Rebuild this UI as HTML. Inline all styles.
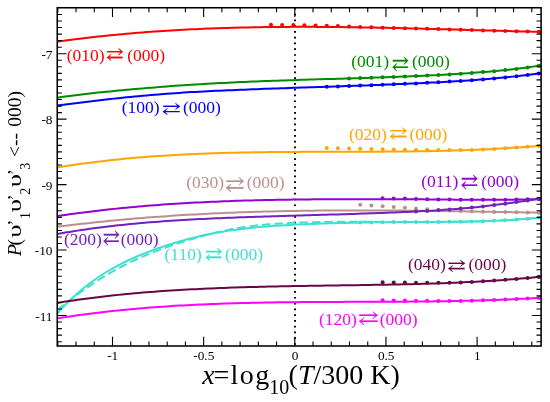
<!DOCTYPE html>
<html lang="en"><head><meta charset="utf-8"><title>P(v1'v2'v3' &lt;-- 000) vs log10(T/300 K)</title>
<style>html,body{margin:0;padding:0;background:#fff}svg{display:block}</style></head>
<body>
<svg width="550" height="402" viewBox="0 0 550 402">
<rect width="550" height="402" fill="#fff"/>
<clipPath id="cp"><rect x="57.25" y="7.75" width="483.85" height="338.25"/></clipPath>
<line x1="295" y1="7.9" x2="295" y2="346.0" stroke="#000" stroke-width="2" stroke-dasharray="1.7 4.08"/>
<g clip-path="url(#cp)" fill="none" stroke-width="2" stroke-linejoin="round">
<path d="M57.2,41.69 L61.3,41.12 L65.4,40.57 L69.4,40.03 L73.5,39.50 L77.6,38.99 L81.6,38.49 L85.7,38.00 L89.8,37.52 L93.8,37.06 L97.9,36.61 L102.0,36.17 L106.0,35.75 L110.1,35.33 L114.2,34.93 L118.2,34.54 L122.3,34.16 L126.4,33.79 L130.4,33.43 L134.5,33.09 L138.6,32.75 L142.6,32.43 L146.7,32.11 L150.8,31.81 L154.8,31.52 L158.9,31.24 L163.0,30.97 L167.0,30.71 L171.1,30.45 L175.2,30.21 L179.2,29.98 L183.3,29.76 L187.4,29.54 L191.4,29.34 L195.5,29.14 L199.6,28.96 L203.6,28.78 L207.7,28.61 L211.8,28.45 L215.8,28.30 L219.9,28.16 L224.0,28.02 L228.0,27.90 L232.1,27.78 L236.2,27.67 L240.2,27.57 L244.3,27.47 L248.4,27.38 L252.4,27.30 L256.5,27.23 L260.5,27.16 L264.6,27.10 L268.7,27.05 L272.7,27.00 L276.8,26.96 L280.9,26.93 L284.9,26.90 L289.0,26.88 L293.1,26.86 L297.1,26.85 L301.2,26.85 L305.3,26.85 L309.3,26.86 L313.4,26.87 L317.5,26.89 L321.5,26.91 L325.6,26.94 L329.7,26.97 L333.7,27.00 L337.8,27.04 L341.9,27.09 L345.9,27.14 L350.0,27.19 L354.1,27.25 L358.1,27.31 L362.2,27.38 L366.3,27.45 L370.3,27.52 L374.4,27.59 L378.5,27.67 L382.5,27.76 L386.6,27.84 L390.7,27.93 L394.7,28.02 L398.8,28.11 L402.9,28.20 L406.9,28.30 L411.0,28.40 L415.1,28.50 L419.1,28.61 L423.2,28.71 L427.3,28.82 L431.3,28.92 L435.4,29.03 L439.5,29.14 L443.5,29.25 L447.6,29.37 L451.6,29.48 L455.7,29.59 L459.8,29.71 L463.8,29.82 L467.9,29.94 L472.0,30.05 L476.0,30.17 L480.1,30.28 L484.2,30.40 L488.2,30.51 L492.3,30.62 L496.4,30.74 L500.4,30.85 L504.5,30.96 L508.6,31.07 L512.6,31.18 L516.7,31.28 L520.8,31.39 L524.8,31.49 L528.9,31.60 L533.0,31.70 L537.0,31.80 L541.1,31.89" stroke="#ff0000"/>
<path d="M57.2,97.71 L61.3,97.09 L65.4,96.50 L69.4,95.94 L73.5,95.40 L77.6,94.89 L81.6,94.39 L85.7,93.92 L89.8,93.46 L93.8,93.02 L97.9,92.59 L102.0,92.18 L106.0,91.78 L110.1,91.38 L114.2,90.99 L118.2,90.61 L122.3,90.23 L126.4,89.85 L130.4,89.48 L134.5,89.12 L138.6,88.76 L142.6,88.40 L146.7,88.05 L150.8,87.71 L154.8,87.38 L158.9,87.05 L163.0,86.73 L167.0,86.42 L171.1,86.11 L175.2,85.81 L179.2,85.53 L183.3,85.25 L187.4,84.98 L191.4,84.71 L195.5,84.46 L199.6,84.21 L203.6,83.97 L207.7,83.74 L211.8,83.51 L215.8,83.30 L219.9,83.08 L224.0,82.88 L228.0,82.68 L232.1,82.48 L236.2,82.30 L240.2,82.11 L244.3,81.94 L248.4,81.76 L252.4,81.60 L256.5,81.43 L260.5,81.27 L264.6,81.12 L268.7,80.97 L272.7,80.82 L276.8,80.67 L280.9,80.53 L284.9,80.39 L289.0,80.26 L293.1,80.13 L297.1,79.99 L301.2,79.87 L305.3,79.74 L309.3,79.61 L313.4,79.49 L317.5,79.37 L321.5,79.24 L325.6,79.12 L329.7,79.00 L333.7,78.88 L337.8,78.76 L341.9,78.64 L345.9,78.51 L350.0,78.39 L354.1,78.27 L358.1,78.14 L362.2,78.02 L366.3,77.89 L370.3,77.76 L374.4,77.62 L378.5,77.49 L382.5,77.35 L386.6,77.21 L390.7,77.06 L394.7,76.92 L398.8,76.76 L402.9,76.60 L406.9,76.44 L411.0,76.27 L415.1,76.10 L419.1,75.92 L423.2,75.73 L427.3,75.54 L431.3,75.34 L435.4,75.14 L439.5,74.92 L443.5,74.70 L447.6,74.47 L451.6,74.24 L455.7,73.99 L459.8,73.73 L463.8,73.47 L467.9,73.19 L472.0,72.91 L476.0,72.62 L480.1,72.31 L484.2,71.99 L488.2,71.66 L492.3,71.32 L496.4,70.96 L500.4,70.58 L504.5,70.18 L508.6,69.76 L512.6,69.31 L516.7,68.84 L520.8,68.33 L524.8,67.80 L528.9,67.23 L533.0,66.62 L537.0,65.98 L541.1,65.29" stroke="#008b00"/>
<path d="M57.2,105.49 L61.3,104.97 L65.4,104.44 L69.4,103.93 L73.5,103.41 L77.6,102.90 L81.6,102.40 L85.7,101.90 L89.8,101.41 L93.8,100.93 L97.9,100.45 L102.0,99.99 L106.0,99.52 L110.1,99.07 L114.2,98.63 L118.2,98.19 L122.3,97.77 L126.4,97.35 L130.4,96.94 L134.5,96.55 L138.6,96.16 L142.6,95.79 L146.7,95.42 L150.8,95.06 L154.8,94.72 L158.9,94.39 L163.0,94.06 L167.0,93.75 L171.1,93.45 L175.2,93.16 L179.2,92.89 L183.3,92.62 L187.4,92.37 L191.4,92.12 L195.5,91.89 L199.6,91.66 L203.6,91.45 L207.7,91.24 L211.8,91.04 L215.8,90.85 L219.9,90.66 L224.0,90.48 L228.0,90.30 L232.1,90.13 L236.2,89.96 L240.2,89.80 L244.3,89.63 L248.4,89.47 L252.4,89.32 L256.5,89.17 L260.5,89.01 L264.6,88.87 L268.7,88.72 L272.7,88.57 L276.8,88.43 L280.9,88.29 L284.9,88.15 L289.0,88.01 L293.1,87.87 L297.1,87.74 L301.2,87.60 L305.3,87.46 L309.3,87.33 L313.4,87.19 L317.5,87.06 L321.5,86.92 L325.6,86.79 L329.7,86.65 L333.7,86.52 L337.8,86.38 L341.9,86.24 L345.9,86.10 L350.0,85.96 L354.1,85.82 L358.1,85.67 L362.2,85.53 L366.3,85.38 L370.3,85.23 L374.4,85.08 L378.5,84.92 L382.5,84.77 L386.6,84.61 L390.7,84.44 L394.7,84.28 L398.8,84.11 L402.9,83.94 L406.9,83.76 L411.0,83.58 L415.1,83.40 L419.1,83.21 L423.2,83.02 L427.3,82.82 L431.3,82.62 L435.4,82.41 L439.5,82.19 L443.5,81.97 L447.6,81.74 L451.6,81.51 L455.7,81.26 L459.8,81.01 L463.8,80.74 L467.9,80.47 L472.0,80.18 L476.0,79.89 L480.1,79.58 L484.2,79.26 L488.2,78.92 L492.3,78.58 L496.4,78.22 L500.4,77.84 L504.5,77.45 L508.6,77.04 L512.6,76.62 L516.7,76.18 L520.8,75.72 L524.8,75.24 L528.9,74.75 L533.0,74.24 L537.0,73.70 L541.1,73.15" stroke="#0000ff"/>
<path d="M57.2,167.42 L61.3,166.76 L65.4,166.12 L69.4,165.50 L73.5,164.89 L77.6,164.31 L81.6,163.74 L85.7,163.19 L89.8,162.66 L93.8,162.14 L97.9,161.65 L102.0,161.16 L106.0,160.70 L110.1,160.25 L114.2,159.81 L118.2,159.39 L122.3,158.99 L126.4,158.60 L130.4,158.22 L134.5,157.86 L138.6,157.52 L142.6,157.18 L146.7,156.86 L150.8,156.56 L154.8,156.26 L158.9,155.98 L163.0,155.71 L167.0,155.45 L171.1,155.21 L175.2,154.97 L179.2,154.75 L183.3,154.54 L187.4,154.34 L191.4,154.15 L195.5,153.96 L199.6,153.79 L203.6,153.63 L207.7,153.48 L211.8,153.33 L215.8,153.20 L219.9,153.07 L224.0,152.95 L228.0,152.84 L232.1,152.74 L236.2,152.64 L240.2,152.55 L244.3,152.47 L248.4,152.39 L252.4,152.32 L256.5,152.26 L260.5,152.20 L264.6,152.15 L268.7,152.10 L272.7,152.05 L276.8,152.01 L280.9,151.98 L284.9,151.95 L289.0,151.92 L293.1,151.90 L297.1,151.88 L301.2,151.86 L305.3,151.84 L309.3,151.83 L313.4,151.82 L317.5,151.81 L321.5,151.80 L325.6,151.79 L329.7,151.78 L333.7,151.78 L337.8,151.77 L341.9,151.77 L345.9,151.76 L350.0,151.75 L354.1,151.75 L358.1,151.74 L362.2,151.73 L366.3,151.72 L370.3,151.70 L374.4,151.69 L378.5,151.67 L382.5,151.65 L386.6,151.62 L390.7,151.60 L394.7,151.57 L398.8,151.53 L402.9,151.49 L406.9,151.45 L411.0,151.40 L415.1,151.35 L419.1,151.29 L423.2,151.22 L427.3,151.15 L431.3,151.08 L435.4,151.00 L439.5,150.91 L443.5,150.81 L447.6,150.71 L451.6,150.60 L455.7,150.48 L459.8,150.35 L463.8,150.22 L467.9,150.07 L472.0,149.92 L476.0,149.76 L480.1,149.59 L484.2,149.41 L488.2,149.22 L492.3,149.02 L496.4,148.81 L500.4,148.58 L504.5,148.35 L508.6,148.11 L512.6,147.85 L516.7,147.58 L520.8,147.30 L524.8,147.01 L528.9,146.70 L533.0,146.38 L537.0,146.05 L541.1,145.70" stroke="#ffa500"/>
<path d="M57.2,226.84 L61.3,226.32 L65.4,225.81 L69.4,225.31 L73.5,224.81 L77.6,224.33 L81.6,223.86 L85.7,223.40 L89.8,222.95 L93.8,222.51 L97.9,222.08 L102.0,221.65 L106.0,221.24 L110.1,220.84 L114.2,220.44 L118.2,220.06 L122.3,219.68 L126.4,219.32 L130.4,218.96 L134.5,218.61 L138.6,218.27 L142.6,217.94 L146.7,217.62 L150.8,217.30 L154.8,217.00 L158.9,216.70 L163.0,216.41 L167.0,216.13 L171.1,215.86 L175.2,215.59 L179.2,215.34 L183.3,215.09 L187.4,214.85 L191.4,214.61 L195.5,214.39 L199.6,214.17 L203.6,213.95 L207.7,213.75 L211.8,213.55 L215.8,213.36 L219.9,213.18 L224.0,213.00 L228.0,212.83 L232.1,212.67 L236.2,212.51 L240.2,212.36 L244.3,212.22 L248.4,212.08 L252.4,211.95 L256.5,211.82 L260.5,211.70 L264.6,211.59 L268.7,211.48 L272.7,211.38 L276.8,211.29 L280.9,211.20 L284.9,211.11 L289.0,211.03 L293.1,210.96 L297.1,210.89 L301.2,210.82 L305.3,210.76 L309.3,210.71 L313.4,210.66 L317.5,210.61 L321.5,210.57 L325.6,210.54 L329.7,210.51 L333.7,210.48 L337.8,210.46 L341.9,210.44 L345.9,210.43 L350.0,210.41 L354.1,210.41 L358.1,210.41 L362.2,210.41 L366.3,210.41 L370.3,210.42 L374.4,210.43 L378.5,210.45 L382.5,210.46 L386.6,210.48 L390.7,210.51 L394.7,210.54 L398.8,210.57 L402.9,210.60 L406.9,210.63 L411.0,210.67 L415.1,210.71 L419.1,210.76 L423.2,210.80 L427.3,210.85 L431.3,210.90 L435.4,210.95 L439.5,211.00 L443.5,211.06 L447.6,211.12 L451.6,211.18 L455.7,211.24 L459.8,211.30 L463.8,211.36 L467.9,211.43 L472.0,211.49 L476.0,211.56 L480.1,211.63 L484.2,211.70 L488.2,211.77 L492.3,211.84 L496.4,211.91 L500.4,211.98 L504.5,212.05 L508.6,212.12 L512.6,212.20 L516.7,212.27 L520.8,212.34 L524.8,212.42 L528.9,212.49 L533.0,212.56 L537.0,212.63 L541.1,212.71" stroke="#bc8f8f"/>
<path d="M57.2,216.13 L61.3,215.52 L65.4,214.93 L69.4,214.35 L73.5,213.78 L77.6,213.23 L81.6,212.69 L85.7,212.17 L89.8,211.66 L93.8,211.16 L97.9,210.68 L102.0,210.21 L106.0,209.75 L110.1,209.31 L114.2,208.87 L118.2,208.45 L122.3,208.05 L126.4,207.65 L130.4,207.27 L134.5,206.90 L138.6,206.54 L142.6,206.19 L146.7,205.85 L150.8,205.52 L154.8,205.21 L158.9,204.90 L163.0,204.60 L167.0,204.32 L171.1,204.04 L175.2,203.78 L179.2,203.52 L183.3,203.28 L187.4,203.04 L191.4,202.81 L195.5,202.60 L199.6,202.39 L203.6,202.19 L207.7,201.99 L211.8,201.81 L215.8,201.63 L219.9,201.47 L224.0,201.31 L228.0,201.15 L232.1,201.01 L236.2,200.87 L240.2,200.74 L244.3,200.61 L248.4,200.50 L252.4,200.38 L256.5,200.28 L260.5,200.18 L264.6,200.09 L268.7,200.00 L272.7,199.92 L276.8,199.84 L280.9,199.77 L284.9,199.71 L289.0,199.64 L293.1,199.59 L297.1,199.54 L301.2,199.49 L305.3,199.45 L309.3,199.41 L313.4,199.37 L317.5,199.34 L321.5,199.31 L325.6,199.28 L329.7,199.26 L333.7,199.24 L337.8,199.22 L341.9,199.21 L345.9,199.20 L350.0,199.19 L354.1,199.18 L358.1,199.17 L362.2,199.17 L366.3,199.17 L370.3,199.17 L374.4,199.17 L378.5,199.17 L382.5,199.17 L386.6,199.18 L390.7,199.19 L394.7,199.20 L398.8,199.22 L402.9,199.23 L406.9,199.25 L411.0,199.27 L415.1,199.30 L419.1,199.33 L423.2,199.36 L427.3,199.39 L431.3,199.43 L435.4,199.46 L439.5,199.50 L443.5,199.54 L447.6,199.58 L451.6,199.62 L455.7,199.66 L459.8,199.69 L463.8,199.72 L467.9,199.75 L472.0,199.78 L476.0,199.80 L480.1,199.81 L484.2,199.82 L488.2,199.83 L492.3,199.82 L496.4,199.81 L500.4,199.79 L504.5,199.76 L508.6,199.72 L512.6,199.66 L516.7,199.60 L520.8,199.52 L524.8,199.42 L528.9,199.31 L533.0,199.19 L537.0,199.05 L541.1,198.89" stroke="#9400d3"/>
<path d="M57.2,233.97 L61.3,233.26 L65.4,232.57 L69.4,231.90 L73.5,231.25 L77.6,230.62 L81.6,230.01 L85.7,229.42 L89.8,228.85 L93.8,228.30 L97.9,227.76 L102.0,227.25 L106.0,226.75 L110.1,226.27 L114.2,225.80 L118.2,225.35 L122.3,224.91 L126.4,224.49 L130.4,224.09 L134.5,223.70 L138.6,223.32 L142.6,222.96 L146.7,222.61 L150.8,222.28 L154.8,221.95 L158.9,221.64 L163.0,221.34 L167.0,221.06 L171.1,220.78 L175.2,220.51 L179.2,220.26 L183.3,220.01 L187.4,219.77 L191.4,219.54 L195.5,219.32 L199.6,219.11 L203.6,218.91 L207.7,218.71 L211.8,218.52 L215.8,218.34 L219.9,218.16 L224.0,217.99 L228.0,217.83 L232.1,217.67 L236.2,217.51 L240.2,217.36 L244.3,217.21 L248.4,217.07 L252.4,216.93 L256.5,216.79 L260.5,216.66 L264.6,216.52 L268.7,216.40 L272.7,216.27 L276.8,216.15 L280.9,216.02 L284.9,215.90 L289.0,215.78 L293.1,215.66 L297.1,215.55 L301.2,215.43 L305.3,215.32 L309.3,215.20 L313.4,215.08 L317.5,214.97 L321.5,214.85 L325.6,214.74 L329.7,214.62 L333.7,214.50 L337.8,214.38 L341.9,214.26 L345.9,214.14 L350.0,214.01 L354.1,213.88 L358.1,213.75 L362.2,213.62 L366.3,213.48 L370.3,213.35 L374.4,213.20 L378.5,213.06 L382.5,212.91 L386.6,212.76 L390.7,212.60 L394.7,212.44 L398.8,212.27 L402.9,212.10 L406.9,211.91 L411.0,211.73 L415.1,211.53 L419.1,211.33 L423.2,211.11 L427.3,210.89 L431.3,210.65 L435.4,210.40 L439.5,210.14 L443.5,209.87 L447.6,209.58 L451.6,209.28 L455.7,208.97 L459.8,208.63 L463.8,208.28 L467.9,207.92 L472.0,207.53 L476.0,207.13 L480.1,206.70 L484.2,206.26 L488.2,205.79 L492.3,205.31 L496.4,204.81 L500.4,204.30 L504.5,203.77 L508.6,203.22 L512.6,202.67 L516.7,202.11 L520.8,201.53 L524.8,200.95 L528.9,200.37 L533.0,199.78 L537.0,199.18 L541.1,198.59" stroke="#7221bc"/>
<path d="M57.2,313.53 L61.3,309.06 L65.4,304.80 L69.4,300.75 L73.5,296.89 L77.6,293.23 L81.6,289.75 L85.7,286.44 L89.8,283.30 L93.8,280.32 L97.9,277.49 L102.0,274.80 L106.0,272.25 L110.1,269.83 L114.2,267.52 L118.2,265.33 L122.3,263.24 L126.4,261.25 L130.4,259.35 L134.5,257.53 L138.6,255.79 L142.6,254.11 L146.7,252.51 L150.8,250.96 L154.8,249.47 L158.9,248.04 L163.0,246.65 L167.0,245.32 L171.1,244.02 L175.2,242.77 L179.2,241.57 L183.3,240.41 L187.4,239.30 L191.4,238.24 L195.5,237.23 L199.6,236.26 L203.6,235.34 L207.7,234.47 L211.8,233.65 L215.8,232.88 L219.9,232.15 L224.0,231.47 L228.0,230.83 L232.1,230.23 L236.2,229.66 L240.2,229.14 L244.3,228.65 L248.4,228.19 L252.4,227.76 L256.5,227.36 L260.5,226.99 L264.6,226.65 L268.7,226.33 L272.7,226.03 L276.8,225.75 L280.9,225.49 L284.9,225.25 L289.0,225.02 L293.1,224.81 L297.1,224.61 L301.2,224.41 L305.3,224.23 L309.3,224.06 L313.4,223.90 L317.5,223.75 L321.5,223.60 L325.6,223.46 L329.7,223.33 L333.7,223.21 L337.8,223.10 L341.9,222.99 L345.9,222.89 L350.0,222.80 L354.1,222.71 L358.1,222.63 L362.2,222.56 L366.3,222.49 L370.3,222.42 L374.4,222.37 L378.5,222.31 L382.5,222.26 L386.6,222.22 L390.7,222.17 L394.7,222.14 L398.8,222.10 L402.9,222.07 L406.9,222.04 L411.0,222.02 L415.1,221.99 L419.1,221.97 L423.2,221.95 L427.3,221.93 L431.3,221.91 L435.4,221.89 L439.5,221.87 L443.5,221.84 L447.6,221.81 L451.6,221.78 L455.7,221.74 L459.8,221.69 L463.8,221.63 L467.9,221.56 L472.0,221.48 L476.0,221.39 L480.1,221.29 L484.2,221.18 L488.2,221.04 L492.3,220.90 L496.4,220.73 L500.4,220.55 L504.5,220.35 L508.6,220.12 L512.6,219.88 L516.7,219.61 L520.8,219.32 L524.8,219.01 L528.9,218.66 L533.0,218.30 L537.0,217.90 L541.1,217.48" stroke="#40e0d0"/>
<path d="M57.2,310.10 L61.3,306.85 L65.4,303.66 L69.4,300.53 L73.5,297.46 L77.6,294.45 L81.6,291.51 L85.7,288.63 L89.8,285.83 L93.8,283.10 L97.9,280.45 L102.0,277.87 L106.0,275.37 L110.1,272.96 L114.2,270.63 L118.2,268.39 L122.3,266.24 L126.4,264.17 L130.4,262.18 L134.5,260.26 L138.6,258.41 L142.6,256.64 L146.7,254.92 L150.8,253.27 L154.8,251.67 L158.9,250.12 L163.0,248.62 L167.0,247.17 L171.1,245.75 L175.2,244.37 L179.2,243.03 L183.3,241.71 L187.4,240.43 L191.4,239.18 L195.5,237.97 L199.6,236.80 L203.6,235.67 L207.7,234.59 L211.8,233.55 L215.8,232.56 L219.9,231.61 L224.0,230.72 L228.0,229.88 L232.1,229.10 L236.2,228.38 L240.2,227.70 L244.3,227.09 L248.4,226.52 L252.4,225.99 L256.5,225.52 L260.5,225.08 L264.6,224.69 L268.7,224.33 L272.7,224.01 L276.8,223.72 L280.9,223.46 L284.9,223.23 L289.0,223.02 L293.1,222.84 L297.1,222.67 L301.2,222.53 L305.3,222.39 L309.3,222.28 L313.4,222.18 L317.5,222.09 L321.5,222.01 L325.6,221.95 L329.7,221.90 L333.7,221.86 L337.8,221.83 L341.9,221.80 L345.9,221.79 L350.0,221.78 L354.1,221.78 L358.1,221.79 L362.2,221.80 L366.3,221.82 L370.3,221.84 L374.4,221.86 L378.5,221.89 L382.5,221.91 L386.6,221.94 L390.7,221.97 L394.7,222.00 L398.8,222.02 L402.9,222.05 L406.9,222.07 L411.0,222.09 L415.1,222.10 L419.1,222.11 L423.2,222.11 L427.3,222.11 L431.3,222.10 L435.4,222.08 L439.5,222.06 L443.5,222.02 L447.6,221.98 L451.6,221.93 L455.7,221.87 L459.8,221.79 L463.8,221.71 L467.9,221.62 L472.0,221.52 L476.0,221.40 L480.1,221.27 L484.2,221.13 L488.2,220.97 L492.3,220.81 L496.4,220.62 L500.4,220.43 L504.5,220.21 L508.6,219.98 L512.6,219.74 L516.7,219.48 L520.8,219.20 L524.8,218.90 L528.9,218.59 L533.0,218.26 L537.0,217.91 L541.1,217.54" stroke="#40e0d0" stroke-dasharray="8.5 4"/>
<path d="M57.2,302.90 L61.3,302.25 L65.4,301.61 L69.4,301.00 L73.5,300.40 L77.6,299.81 L81.6,299.25 L85.7,298.70 L89.8,298.17 L93.8,297.65 L97.9,297.15 L102.0,296.67 L106.0,296.20 L110.1,295.74 L114.2,295.30 L118.2,294.87 L122.3,294.46 L126.4,294.06 L130.4,293.68 L134.5,293.31 L138.6,292.95 L142.6,292.60 L146.7,292.27 L150.8,291.95 L154.8,291.64 L158.9,291.34 L163.0,291.06 L167.0,290.78 L171.1,290.51 L175.2,290.26 L179.2,290.01 L183.3,289.78 L187.4,289.55 L191.4,289.34 L195.5,289.13 L199.6,288.93 L203.6,288.74 L207.7,288.56 L211.8,288.38 L215.8,288.22 L219.9,288.06 L224.0,287.91 L228.0,287.76 L232.1,287.62 L236.2,287.49 L240.2,287.36 L244.3,287.24 L248.4,287.12 L252.4,287.01 L256.5,286.90 L260.5,286.80 L264.6,286.70 L268.7,286.60 L272.7,286.51 L276.8,286.43 L280.9,286.35 L284.9,286.27 L289.0,286.19 L293.1,286.12 L297.1,286.04 L301.2,285.98 L305.3,285.91 L309.3,285.84 L313.4,285.78 L317.5,285.72 L321.5,285.66 L325.6,285.60 L329.7,285.54 L333.7,285.48 L337.8,285.42 L341.9,285.37 L345.9,285.31 L350.0,285.25 L354.1,285.19 L358.1,285.13 L362.2,285.07 L366.3,285.01 L370.3,284.94 L374.4,284.87 L378.5,284.81 L382.5,284.74 L386.6,284.66 L390.7,284.58 L394.7,284.50 L398.8,284.42 L402.9,284.33 L406.9,284.24 L411.0,284.14 L415.1,284.04 L419.1,283.93 L423.2,283.82 L427.3,283.70 L431.3,283.57 L435.4,283.44 L439.5,283.30 L443.5,283.15 L447.6,283.00 L451.6,282.84 L455.7,282.67 L459.8,282.49 L463.8,282.31 L467.9,282.11 L472.0,281.91 L476.0,281.69 L480.1,281.47 L484.2,281.23 L488.2,280.99 L492.3,280.73 L496.4,280.47 L500.4,280.19 L504.5,279.90 L508.6,279.60 L512.6,279.28 L516.7,278.96 L520.8,278.62 L524.8,278.26 L528.9,277.90 L533.0,277.52 L537.0,277.12 L541.1,276.72" stroke="#670748"/>
<path d="M57.2,318.38 L61.3,317.74 L65.4,317.12 L69.4,316.51 L73.5,315.92 L77.6,315.34 L81.6,314.79 L85.7,314.24 L89.8,313.72 L93.8,313.21 L97.9,312.71 L102.0,312.23 L106.0,311.76 L110.1,311.31 L114.2,310.88 L118.2,310.45 L122.3,310.04 L126.4,309.65 L130.4,309.26 L134.5,308.89 L138.6,308.54 L142.6,308.19 L146.7,307.86 L150.8,307.54 L154.8,307.23 L158.9,306.94 L163.0,306.65 L167.0,306.38 L171.1,306.12 L175.2,305.86 L179.2,305.62 L183.3,305.39 L187.4,305.17 L191.4,304.96 L195.5,304.76 L199.6,304.57 L203.6,304.38 L207.7,304.21 L211.8,304.04 L215.8,303.88 L219.9,303.73 L224.0,303.59 L228.0,303.46 L232.1,303.33 L236.2,303.21 L240.2,303.10 L244.3,303.00 L248.4,302.90 L252.4,302.81 L256.5,302.72 L260.5,302.64 L264.6,302.56 L268.7,302.49 L272.7,302.43 L276.8,302.37 L280.9,302.31 L284.9,302.26 L289.0,302.22 L293.1,302.17 L297.1,302.14 L301.2,302.10 L305.3,302.07 L309.3,302.04 L313.4,302.01 L317.5,301.99 L321.5,301.97 L325.6,301.95 L329.7,301.93 L333.7,301.91 L337.8,301.90 L341.9,301.89 L345.9,301.87 L350.0,301.86 L354.1,301.85 L358.1,301.84 L362.2,301.83 L366.3,301.82 L370.3,301.80 L374.4,301.79 L378.5,301.78 L382.5,301.76 L386.6,301.74 L390.7,301.73 L394.7,301.71 L398.8,301.68 L402.9,301.66 L406.9,301.63 L411.0,301.60 L415.1,301.57 L419.1,301.53 L423.2,301.49 L427.3,301.45 L431.3,301.40 L435.4,301.35 L439.5,301.29 L443.5,301.23 L447.6,301.16 L451.6,301.09 L455.7,301.02 L459.8,300.93 L463.8,300.85 L467.9,300.75 L472.0,300.65 L476.0,300.54 L480.1,300.43 L484.2,300.31 L488.2,300.18 L492.3,300.04 L496.4,299.90 L500.4,299.75 L504.5,299.59 L508.6,299.42 L512.6,299.24 L516.7,299.05 L520.8,298.86 L524.8,298.65 L528.9,298.44 L533.0,298.21 L537.0,297.98 L541.1,297.73" stroke="#ff00ff"/>
</g>
<g stroke="none">
<g fill="#ff0000"><circle cx="538.8" cy="31.8" r="2"/><circle cx="527.6" cy="31.6" r="2"/><circle cx="516.5" cy="31.3" r="2"/><circle cx="505.3" cy="31.0" r="2"/><circle cx="494.2" cy="30.7" r="2"/><circle cx="483.0" cy="30.4" r="2"/><circle cx="471.8" cy="30.0" r="2"/><circle cx="460.7" cy="29.7" r="2"/><circle cx="449.5" cy="29.4" r="2"/><circle cx="438.4" cy="29.1" r="2"/><circle cx="427.2" cy="28.8" r="2"/><circle cx="416.0" cy="28.5" r="2"/><circle cx="404.9" cy="28.3" r="2"/><circle cx="393.7" cy="28.0" r="2"/><circle cx="382.6" cy="27.7" r="2"/><circle cx="371.4" cy="27.3" r="2"/><circle cx="360.2" cy="26.9" r="2"/><circle cx="349.1" cy="26.5" r="2"/><circle cx="337.9" cy="26.1" r="2"/><circle cx="326.8" cy="25.8" r="2"/><circle cx="315.6" cy="25.5" r="2"/><circle cx="304.4" cy="25.3" r="2"/><circle cx="293.3" cy="25.1" r="2"/><circle cx="282.1" cy="24.9" r="2"/><circle cx="271.0" cy="24.8" r="2"/></g>
<g fill="#008b00"><circle cx="538.8" cy="65.7" r="2"/><circle cx="527.6" cy="67.4" r="2"/><circle cx="516.5" cy="68.9" r="2"/><circle cx="505.3" cy="70.1" r="2"/><circle cx="494.2" cy="71.2" r="2"/><circle cx="483.0" cy="72.1" r="2"/><circle cx="471.8" cy="72.9" r="2"/><circle cx="460.7" cy="73.7" r="2"/><circle cx="449.5" cy="74.4" r="2"/><circle cx="438.4" cy="75.0" r="2"/><circle cx="427.2" cy="75.5" r="2"/><circle cx="416.0" cy="76.1" r="2"/><circle cx="404.9" cy="76.5" r="2"/><circle cx="393.7" cy="77.0" r="2"/><circle cx="382.6" cy="77.3" r="2"/><circle cx="371.4" cy="77.7" r="2"/><circle cx="360.2" cy="78.1" r="2"/><circle cx="349.1" cy="78.4" r="2"/></g>
<g fill="#0000ff"><circle cx="538.8" cy="73.5" r="2"/><circle cx="527.6" cy="74.9" r="2"/><circle cx="516.5" cy="76.2" r="2"/><circle cx="505.3" cy="77.4" r="2"/><circle cx="494.2" cy="78.4" r="2"/><circle cx="483.0" cy="79.4" r="2"/><circle cx="471.8" cy="80.2" r="2"/><circle cx="460.7" cy="81.0" r="2"/><circle cx="449.5" cy="81.6" r="2"/><circle cx="438.4" cy="82.3" r="2"/><circle cx="427.2" cy="82.8" r="2"/><circle cx="416.0" cy="83.4" r="2"/><circle cx="404.9" cy="83.8" r="2"/><circle cx="393.7" cy="84.3" r="2"/><circle cx="382.6" cy="84.8" r="2"/><circle cx="371.4" cy="85.2" r="2"/><circle cx="360.2" cy="85.6" r="2"/><circle cx="349.1" cy="86.0" r="2"/><circle cx="337.9" cy="86.4" r="2"/><circle cx="326.8" cy="86.7" r="2"/></g>
<g fill="#ffa500"><circle cx="538.8" cy="145.9" r="2"/><circle cx="527.6" cy="146.8" r="2"/><circle cx="516.5" cy="147.6" r="2"/><circle cx="505.3" cy="148.3" r="2"/><circle cx="494.2" cy="148.9" r="2"/><circle cx="483.0" cy="149.5" r="2"/><circle cx="471.8" cy="149.9" r="2"/><circle cx="460.7" cy="150.1" r="2"/><circle cx="449.5" cy="150.1" r="2"/><circle cx="438.4" cy="150.1" r="2"/><circle cx="427.2" cy="150.0" r="2"/><circle cx="416.0" cy="149.9" r="2"/><circle cx="404.9" cy="149.7" r="2"/><circle cx="393.7" cy="149.6" r="2"/><circle cx="382.6" cy="149.3" r="2"/><circle cx="371.4" cy="149.1" r="2"/><circle cx="360.2" cy="148.8" r="2"/><circle cx="349.1" cy="148.5" r="2"/><circle cx="337.9" cy="148.3" r="2"/><circle cx="326.8" cy="148.0" r="2"/></g>
<g fill="#bc8f8f"><circle cx="538.8" cy="212.7" r="2"/><circle cx="527.6" cy="212.5" r="2"/><circle cx="516.5" cy="212.3" r="2"/><circle cx="505.3" cy="212.1" r="2"/><circle cx="494.2" cy="211.9" r="2"/><circle cx="483.0" cy="211.7" r="2"/><circle cx="471.8" cy="211.5" r="2"/><circle cx="460.7" cy="211.1" r="2"/><circle cx="449.5" cy="210.5" r="2"/><circle cx="438.4" cy="209.9" r="2"/><circle cx="427.2" cy="209.2" r="2"/><circle cx="416.0" cy="208.5" r="2"/><circle cx="404.9" cy="207.8" r="2"/><circle cx="393.7" cy="207.0" r="2"/><circle cx="382.6" cy="206.3" r="2"/><circle cx="371.4" cy="205.6" r="2"/><circle cx="360.2" cy="204.8" r="2"/></g>
<g fill="#9400d3"><circle cx="538.8" cy="199.0" r="2"/><circle cx="527.6" cy="199.3" r="2"/><circle cx="516.5" cy="199.6" r="2"/><circle cx="505.3" cy="199.7" r="2"/><circle cx="494.2" cy="199.8" r="2"/><circle cx="483.0" cy="199.8" r="2"/><circle cx="471.8" cy="199.8" r="2"/><circle cx="460.7" cy="199.7" r="2"/><circle cx="449.5" cy="199.6" r="2"/><circle cx="438.4" cy="199.5" r="2"/><circle cx="427.2" cy="199.2" r="2"/><circle cx="416.0" cy="198.9" r="2"/><circle cx="404.9" cy="198.6" r="2"/><circle cx="393.7" cy="198.4" r="2"/><circle cx="382.6" cy="198.2" r="2"/></g>
<g fill="#7221bc"><circle cx="538.8" cy="198.9" r="2"/><circle cx="527.6" cy="200.6" r="2"/><circle cx="516.5" cy="202.1" r="2"/><circle cx="505.3" cy="203.7" r="2"/><circle cx="494.2" cy="205.1" r="2"/><circle cx="483.0" cy="206.4" r="2"/><circle cx="471.8" cy="207.5" r="2"/><circle cx="460.7" cy="208.6" r="2"/><circle cx="449.5" cy="209.4" r="2"/><circle cx="438.4" cy="210.2" r="2"/><circle cx="427.2" cy="210.9" r="2"/><circle cx="416.0" cy="211.5" r="2"/></g>
<g fill="#40e0d0"><circle cx="538.8" cy="217.7" r="2"/><circle cx="527.6" cy="218.8" r="2"/><circle cx="516.5" cy="219.6" r="2"/><circle cx="505.3" cy="220.3" r="2"/><circle cx="494.2" cy="220.8" r="2"/><circle cx="483.0" cy="221.2" r="2"/><circle cx="471.8" cy="221.5" r="2"/><circle cx="460.7" cy="221.7" r="2"/><circle cx="449.5" cy="221.8" r="2"/><circle cx="438.4" cy="221.9" r="2"/><circle cx="427.2" cy="221.9" r="2"/><circle cx="416.0" cy="222.0" r="2"/><circle cx="404.9" cy="222.1" r="2"/><circle cx="393.7" cy="222.1" r="2"/><circle cx="382.6" cy="222.3" r="2"/><circle cx="371.4" cy="222.4" r="2"/><circle cx="360.2" cy="222.6" r="2"/></g>
<g fill="#670748"><circle cx="538.8" cy="276.9" r="2"/><circle cx="527.6" cy="278.0" r="2"/><circle cx="516.5" cy="279.0" r="2"/><circle cx="505.3" cy="279.8" r="2"/><circle cx="494.2" cy="280.6" r="2"/><circle cx="483.0" cy="281.3" r="2"/><circle cx="471.8" cy="281.9" r="2"/><circle cx="460.7" cy="282.5" r="2"/><circle cx="449.5" cy="282.7" r="2"/><circle cx="438.4" cy="282.8" r="2"/><circle cx="427.2" cy="282.7" r="2"/><circle cx="416.0" cy="282.7" r="2"/><circle cx="404.9" cy="282.6" r="2"/><circle cx="393.7" cy="282.4" r="2"/><circle cx="382.6" cy="282.3" r="2"/></g>
<g fill="#ff00ff"><circle cx="538.8" cy="297.9" r="2"/><circle cx="527.6" cy="298.5" r="2"/><circle cx="516.5" cy="299.1" r="2"/><circle cx="505.3" cy="299.6" r="2"/><circle cx="494.2" cy="300.0" r="2"/><circle cx="483.0" cy="300.3" r="2"/><circle cx="471.8" cy="300.7" r="2"/><circle cx="460.7" cy="300.9" r="2"/><circle cx="449.5" cy="301.0" r="2"/><circle cx="438.4" cy="300.9" r="2"/><circle cx="427.2" cy="300.8" r="2"/><circle cx="416.0" cy="300.7" r="2"/><circle cx="404.9" cy="300.5" r="2"/><circle cx="393.7" cy="300.4" r="2"/><circle cx="382.6" cy="300.2" r="2"/></g>
</g>
<path d="M57.81,346.0v-4.6M57.81,7.75v4.6M76.04,346.0v-4.6M76.04,7.75v4.6M94.27,346.0v-4.6M94.27,7.75v4.6M112.50,346.0v-9.3M112.50,7.75v9.3M130.73,346.0v-4.6M130.73,7.75v4.6M148.96,346.0v-4.6M148.96,7.75v4.6M167.19,346.0v-4.6M167.19,7.75v4.6M185.42,346.0v-4.6M185.42,7.75v4.6M203.65,346.0v-9.3M203.65,7.75v9.3M221.88,346.0v-4.6M221.88,7.75v4.6M240.11,346.0v-4.6M240.11,7.75v4.6M258.34,346.0v-4.6M258.34,7.75v4.6M276.57,346.0v-4.6M276.57,7.75v4.6M294.80,346.0v-9.3M294.80,7.75v9.3M313.03,346.0v-4.6M313.03,7.75v4.6M331.26,346.0v-4.6M331.26,7.75v4.6M349.49,346.0v-4.6M349.49,7.75v4.6M367.72,346.0v-4.6M367.72,7.75v4.6M385.95,346.0v-9.3M385.95,7.75v9.3M404.18,346.0v-4.6M404.18,7.75v4.6M422.41,346.0v-4.6M422.41,7.75v4.6M440.64,346.0v-4.6M440.64,7.75v4.6M458.87,346.0v-4.6M458.87,7.75v4.6M477.10,346.0v-9.3M477.10,7.75v9.3M495.33,346.0v-4.6M495.33,7.75v4.6M513.56,346.0v-4.6M513.56,7.75v4.6M531.79,346.0v-4.6M531.79,7.75v4.6M57.25,341.70h4.6M541.1,341.70h-4.6M57.25,335.16h4.6M541.1,335.16h-4.6M57.25,328.61h4.6M541.1,328.61h-4.6M57.25,322.06h4.6M541.1,322.06h-4.6M57.25,315.52h9.3M541.1,315.52h-9.3M57.25,308.98h4.6M541.1,308.98h-4.6M57.25,302.43h4.6M541.1,302.43h-4.6M57.25,295.88h4.6M541.1,295.88h-4.6M57.25,289.34h4.6M541.1,289.34h-4.6M57.25,282.80h4.6M541.1,282.80h-4.6M57.25,276.25h4.6M541.1,276.25h-4.6M57.25,269.71h4.6M541.1,269.71h-4.6M57.25,263.16h4.6M541.1,263.16h-4.6M57.25,256.62h4.6M541.1,256.62h-4.6M57.25,250.07h9.3M541.1,250.07h-9.3M57.25,243.53h4.6M541.1,243.53h-4.6M57.25,236.98h4.6M541.1,236.98h-4.6M57.25,230.43h4.6M541.1,230.43h-4.6M57.25,223.89h4.6M541.1,223.89h-4.6M57.25,217.34h4.6M541.1,217.34h-4.6M57.25,210.80h4.6M541.1,210.80h-4.6M57.25,204.26h4.6M541.1,204.26h-4.6M57.25,197.71h4.6M541.1,197.71h-4.6M57.25,191.16h4.6M541.1,191.16h-4.6M57.25,184.62h9.3M541.1,184.62h-9.3M57.25,178.08h4.6M541.1,178.08h-4.6M57.25,171.53h4.6M541.1,171.53h-4.6M57.25,164.98h4.6M541.1,164.98h-4.6M57.25,158.44h4.6M541.1,158.44h-4.6M57.25,151.90h4.6M541.1,151.90h-4.6M57.25,145.35h4.6M541.1,145.35h-4.6M57.25,138.81h4.6M541.1,138.81h-4.6M57.25,132.26h4.6M541.1,132.26h-4.6M57.25,125.71h4.6M541.1,125.71h-4.6M57.25,119.17h9.3M541.1,119.17h-9.3M57.25,112.63h4.6M541.1,112.63h-4.6M57.25,106.08h4.6M541.1,106.08h-4.6M57.25,99.54h4.6M541.1,99.54h-4.6M57.25,92.99h4.6M541.1,92.99h-4.6M57.25,86.44h4.6M541.1,86.44h-4.6M57.25,79.90h4.6M541.1,79.90h-4.6M57.25,73.35h4.6M541.1,73.35h-4.6M57.25,66.81h4.6M541.1,66.81h-4.6M57.25,60.26h4.6M541.1,60.26h-4.6M57.25,53.72h9.3M541.1,53.72h-9.3M57.25,47.18h4.6M541.1,47.18h-4.6M57.25,40.63h4.6M541.1,40.63h-4.6M57.25,34.09h4.6M541.1,34.09h-4.6M57.25,27.54h4.6M541.1,27.54h-4.6M57.25,20.99h4.6M541.1,20.99h-4.6M57.25,14.45h4.6M541.1,14.45h-4.6" stroke="#000" stroke-width="1.1" fill="none"/>
<rect x="57.25" y="7.75" width="483.85" height="338.25" fill="none" stroke="#000" stroke-width="1.55"/>
<g font-family="'Liberation Serif', serif" font-size="13.3" fill="#000">
<text x="112.7" y="360.3" text-anchor="middle">-1</text>
<text x="203.8" y="360.3" text-anchor="middle">-0.5</text>
<text x="295.0" y="360.3" text-anchor="middle">0</text>
<text x="386.2" y="360.3" text-anchor="middle">0.5</text>
<text x="477.3" y="360.3" text-anchor="middle">1</text>
<text x="52.5" y="320.5" text-anchor="end">-11</text>
<text x="52.5" y="255.1" text-anchor="end">-10</text>
<text x="52.5" y="189.6" text-anchor="end">-9</text>
<text x="52.5" y="124.2" text-anchor="end">-8</text>
<text x="52.5" y="58.7" text-anchor="end">-7</text>
</g>
<g font-family="'Liberation Serif', serif" font-size="28" fill="#000"><text x="202.3" y="384" font-style="italic">x</text><text x="213.6" y="384">=</text><text x="230.4" y="384" letter-spacing="1.6">log</text><text x="269.2" y="394.4" font-size="20">10</text><text x="288.6" y="384">(<tspan font-style="italic">T</tspan>/300 K)</text></g>
<g transform="translate(0,402) rotate(-90)" font-family="'Liberation Serif', serif" fill="#000"><text x="146" y="20.8" font-style="italic" font-size="19.5">P</text><text x="156.4" y="20.8" font-size="19.5">(</text><text transform="translate(164.4,21.400000000000002) scale(1.45,1)" x="-0.2" y="0" font-size="18.5">υ</text><text x="176.0" y="20.5" font-size="19.5">’</text><text x="183.0" y="29.7" font-size="14">1</text><text transform="translate(190.0,21.400000000000002) scale(1.45,1)" x="-0.2" y="0" font-size="18.5">υ</text><text x="201.3" y="20.5" font-size="19.5">’</text><text x="207.2" y="29.7" font-size="14">2</text><text transform="translate(215.0,21.400000000000002) scale(1.45,1)" x="-0.2" y="0" font-size="18.5">υ</text><text x="226.6" y="20.5" font-size="19.5">’</text><text x="232.2" y="29.7" font-size="14">3</text><text x="245" y="20.8" font-size="19.5">&lt;--</text><text x="275.3" y="20.8" font-size="19.5">000)</text></g>
<g fill="#ff0000" font-family="'Liberation Serif', serif" font-size="17.5"><text x="66.8" y="60.7">(010)</text><text transform="translate(114.85,54.65) scale(1,0.791)" x="-8.83" y="6.81" font-family="'DejaVu Serif', serif" font-size="21.07" stroke="#ff0000" stroke-width="0.35">⇄</text><text x="127.3" y="60.7">(000)</text></g>
<g fill="#008b00" font-family="'Liberation Serif', serif" font-size="17.5"><text x="351.2" y="67.3">(001)</text><text transform="translate(400.35,63.40) scale(1,0.920)" x="-8.61" y="6.64" font-family="'DejaVu Serif', serif" font-size="20.55" stroke="#008b00" stroke-width="0.35">⇄</text><text x="411.9" y="67.3">(000)</text></g>
<g fill="#0000ff" font-family="'Liberation Serif', serif" font-size="17.5"><text x="121.8" y="113.3">(100)</text><text transform="translate(171.40,108.65) scale(1,0.688)" x="-9.43" y="7.27" font-family="'DejaVu Serif', serif" font-size="22.51" stroke="#0000ff" stroke-width="0.35">⇄</text><text x="182.9" y="113.3">(000)</text></g>
<g fill="#ffa500" font-family="'Liberation Serif', serif" font-size="17.5"><text x="349.0" y="139.7">(020)</text><text transform="translate(398.20,133.20) scale(1,0.736)" x="-9.32" y="7.19" font-family="'DejaVu Serif', serif" font-size="22.25" stroke="#ffa500" stroke-width="0.35">⇄</text><text x="409.5" y="139.7">(000)</text></g>
<g fill="#bc8f8f" font-family="'Liberation Serif', serif" font-size="17.5"><text x="186.2" y="187.5">(030)</text><text transform="translate(234.85,184.20) scale(1,0.858)" x="-9.71" y="7.48" font-family="'DejaVu Serif', serif" font-size="23.17" stroke="#bc8f8f" stroke-width="0.35">⇄</text><text x="246.7" y="187.5">(000)</text></g>
<g fill="#9400d3" font-family="'Liberation Serif', serif" font-size="17.5"><text x="421.2" y="186.8">(011)</text><text transform="translate(469.55,182.00) scale(1,0.920)" x="-8.72" y="6.72" font-family="'DejaVu Serif', serif" font-size="20.81" stroke="#9400d3" stroke-width="0.35">⇄</text><text x="481.2" y="186.8">(000)</text></g>
<g fill="#7221bc" font-family="'Liberation Serif', serif" font-size="17.5"><text x="64.0" y="244.9">(200)</text><text transform="translate(111.45,238.20) scale(1,0.920)" x="-8.61" y="6.64" font-family="'DejaVu Serif', serif" font-size="20.55" stroke="#7221bc" stroke-width="0.35">⇄</text><text x="120.7" y="244.9">(000)</text></g>
<g fill="#40e0d0" font-family="'Liberation Serif', serif" font-size="17.5"><text x="164.5" y="259.9">(110)</text><text transform="translate(213.75,255.00) scale(1,0.815)" x="-8.72" y="6.72" font-family="'DejaVu Serif', serif" font-size="20.81" stroke="#40e0d0" stroke-width="0.35">⇄</text><text x="225.1" y="259.9">(000)</text></g>
<g fill="#670748" font-family="'Liberation Serif', serif" font-size="17.5"><text x="407.9" y="270.3">(040)</text><text transform="translate(456.60,265.50) scale(1,0.727)" x="-9.10" y="7.02" font-family="'DejaVu Serif', serif" font-size="21.73" stroke="#670748" stroke-width="0.35">⇄</text><text x="468.4" y="270.3">(000)</text></g>
<g fill="#ff00ff" font-family="'Liberation Serif', serif" font-size="17.5"><text x="319.0" y="324.7">(120)</text><text transform="translate(368.50,318.20) scale(1,0.729)" x="-10.42" y="8.03" font-family="'DejaVu Serif', serif" font-size="24.87" stroke="#ff00ff" stroke-width="0.35">⇄</text><text x="379.7" y="324.7">(000)</text></g>
</svg>
</body></html>
